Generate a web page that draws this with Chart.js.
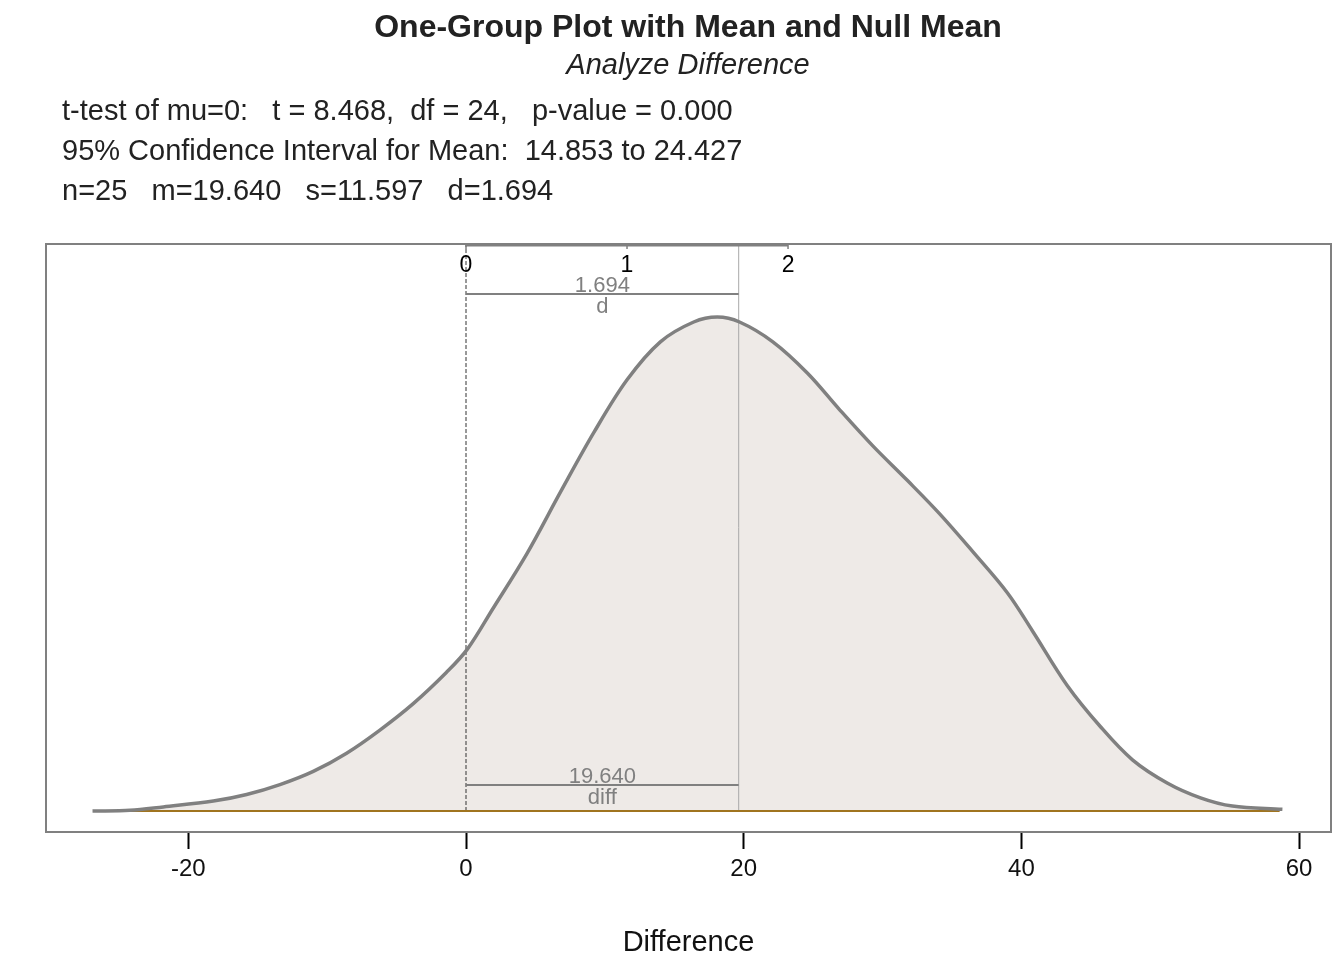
<!DOCTYPE html>
<html>
<head>
<meta charset="utf-8">
<script src="https://cdn.jsdelivr.net/npm/chart.js@4.4.1/dist/chart.umd.min.js"></script>
<style>
  html, body { margin: 0; padding: 0; background: #fff; }
  #wrap { width: 1344px; height: 960px; }
</style>
</head>
<body>
<div id="wrap"><canvas id="chart" width="1344" height="960"></canvas></div>
<script>
// Data
const densX = [-26.9, -24.2, -21.8, -18.2, -15.8, -13.4, -11.0, -8.6, -6.2, -3.8, -1.4, 0.1, 1.9, 4.4, 6.8, 9.2, 11.6, 14.0, 16.4, 18.1, 19.7, 22.1, 24.6, 26.9, 29.3, 31.8, 34.1, 36.5, 39.0, 40.8, 43.3, 45.7, 48.0, 50.5, 52.9, 55.2, 58.8];
const densY = [0.0000, 0.00004, 0.00025, 0.0006, 0.0010, 0.0016, 0.0024, 0.0035, 0.0049, 0.0065, 0.0084, 0.0098, 0.0122, 0.0156, 0.0193, 0.0229, 0.0261, 0.0284, 0.0296, 0.0299, 0.0296, 0.0284, 0.0265, 0.0243, 0.0221, 0.0200, 0.0180, 0.0157, 0.0132, 0.0109, 0.0076, 0.0051, 0.0031, 0.0017, 0.0008, 0.0003, 0.0001];
const rugRange = [-24.2, 58.6];
const xTicks = [-20, 0, 20, 40, 60];
const dTicks = [0, 1, 2];

const nullMean = 0;
const sampleMean = 19.640;
const sampleSd = 11.597;
const cohenD = 1.694;

const titleText = 'One-Group Plot with Mean and Null Mean';
const subtitleText = 'Analyze Difference';
const statLines = [
    't-test of mu=0:   t = 8.468,  df = 24,   p-value = 0.000',
    '95% Confidence Interval for Mean:  14.853 to 24.427',
    'n=25   m=19.640   s=11.597   d=1.694'
];

const FONT = '"Liberation Sans", Arial, Helvetica, sans-serif';
const yMin = -0.00127;
const yMax = 0.03432;

const curvePts = densX.map((x, i) => ({ x: x, y: densY[i] }));

// Draws text, box, the d axis on top and the two brackets
const extras = {
    id: 'extras',
    afterDraw(chart) {
        const ctx = chart.ctx;
        const a = chart.chartArea;
        const xs = chart.scales.x;
        const ys = chart.scales.y;
        ctx.save();

        // titles
        ctx.fillStyle = '#222';
        ctx.textAlign = 'center';
        ctx.textBaseline = 'middle';
        ctx.font = 'bold 32px ' + FONT;
        ctx.fillText(titleText, 688, 28);
        ctx.font = 'italic 29px ' + FONT;
        ctx.fillText(subtitleText, 688, 66);

        ctx.textAlign = 'left';
        ctx.font = '29px ' + FONT;
        statLines.forEach((s, i) => {
            ctx.fillText(s.replace(/ /g, '\u00a0'), 62, 112 + i * 40);
        });

        // plot box
        ctx.strokeStyle = '#808080';
        ctx.lineWidth = 2;
        ctx.strokeRect(a.left, a.top, a.right - a.left, a.bottom - a.top);

        // d axis along the top
        const d0 = xs.getPixelForValue(dTicks[0] * sampleSd);
        const d1 = xs.getPixelForValue(dTicks[dTicks.length - 1] * sampleSd);
        ctx.lineWidth = 3;
        ctx.beginPath();
        ctx.moveTo(d0, a.top + 1);
        ctx.lineTo(d1, a.top + 1);
        ctx.stroke();
        ctx.lineWidth = 1.5;
        ctx.font = '23px ' + FONT;
        ctx.textAlign = 'center';
        dTicks.forEach(d => {
            const px = xs.getPixelForValue(d * sampleSd);
            ctx.strokeStyle = '#808080';
            ctx.beginPath();
            ctx.moveTo(px, a.top);
            ctx.lineTo(px, a.top + 5);
            ctx.stroke();
            ctx.fillStyle = '#000';
            ctx.fillText(String(d), px, a.top + 22);
        });

        // brackets between null mean and sample mean
        const p0 = xs.getPixelForValue(nullMean);
        const p1 = xs.getPixelForValue(sampleMean);
        const mid = (p0 + p1) / 2;
        const yTop = a.top + 50;
        const yBot = ys.getPixelForValue(0) - 26;
        ctx.strokeStyle = '#808080';
        ctx.lineWidth = 2;
        [yTop, yBot].forEach(y => {
            ctx.beginPath();
            ctx.moveTo(p0, y);
            ctx.lineTo(p1, y);
            ctx.stroke();
        });
        ctx.fillStyle = '#808080';
        ctx.font = '22px ' + FONT;
        ctx.fillText(cohenD.toFixed(3), mid, yTop - 8);
        ctx.fillText('d', mid, yTop + 13);
        ctx.fillText(sampleMean.toFixed(3), mid, yBot - 8);
        ctx.fillText('diff', mid, yBot + 13);

        ctx.restore();
    }
};

new Chart(document.getElementById('chart'), {
    type: 'scatter',
    data: {
        datasets: [
            {
                label: 'density',
                data: curvePts,
                showLine: true,
                borderColor: '#808080',
                borderWidth: 3.5,
                backgroundColor: '#EEEAE7',
                fill: 'origin',
                pointRadius: 0,
                tension: 0.35
            },
            {
                label: 'baseline',
                data: rugRange.map(x => ({ x: x, y: 0 })),
                showLine: true,
                borderColor: '#A0741F',
                borderWidth: 2,
                pointRadius: 0,
                fill: false
            },
            {
                label: 'mean',
                data: [{ x: sampleMean, y: 0 }, { x: sampleMean, y: yMax }],
                showLine: true,
                borderColor: '#A8A8A8',
                borderWidth: 1,
                pointRadius: 0,
                fill: false
            },
            {
                label: 'null',
                data: [{ x: nullMean, y: 0 }, { x: nullMean, y: yMax }],
                showLine: true,
                borderColor: '#333',
                borderWidth: 1,
                borderDash: [4, 2],
                pointRadius: 0,
                fill: false
            }
        ]
    },
    options: {
        responsive: false,
        animation: false,
        layout: { padding: { left: 46, right: 13, top: 244, bottom: 0 } },
        plugins: {
            legend: { display: false },
            tooltip: { enabled: false },
            filler: { drawTime: 'beforeDatasetsDraw' }
        },
        scales: {
            x: {
                type: 'linear',
                min: -30.25,
                max: 62.3,
                afterBuildTicks: scale => { scale.ticks = xTicks.map(v => ({ value: v })); },
                afterFit: scale => { scale.height = 128; },
                border: { display: false },
                grid: {
                    drawOnChartArea: false,
                    drawTicks: true,
                    tickLength: 17,
                    tickWidth: 2,
                    tickColor: '#000'
                },
                ticks: {
                    color: '#111',
                    font: { family: FONT, size: 24 },
                    padding: 6,
                    maxRotation: 0
                },
                title: {
                    display: true,
                    text: 'Difference',
                    color: '#111',
                    font: { family: FONT, size: 29 },
                    padding: { top: 0, bottom: 0 }
                }
            },
            y: {
                type: 'linear',
                min: yMin,
                max: yMax,
                display: false
            }
        }
    },
    plugins: [extras]
});
</script>
</body>
</html>
